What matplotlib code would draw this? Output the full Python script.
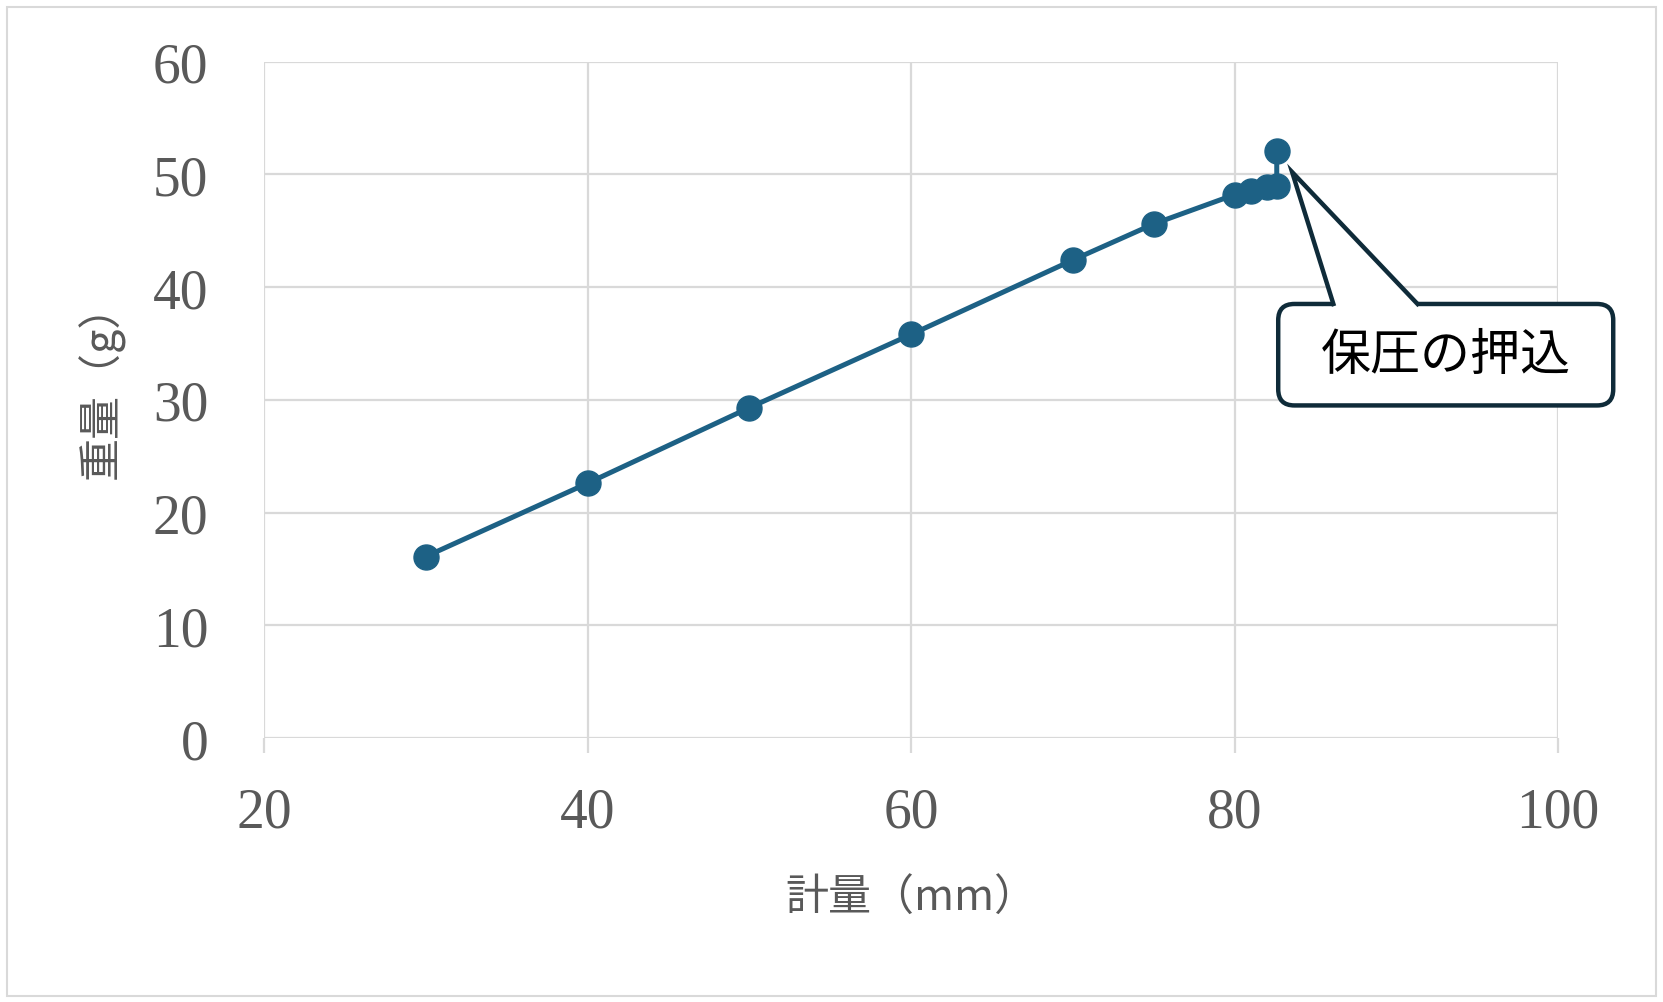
import matplotlib
matplotlib.use('Agg')
from matplotlib import pyplot as plt
from matplotlib.patches import FancyBboxPatch, Polygon, Rectangle

plt.rcParams['font.family'] = ['Liberation Serif', 'Noto Sans CJK JP', 'DejaVu Sans']

# 計量 (mm) と 重量 (g)
stroke_mm = [30, 40, 50, 60, 70, 75, 80, 81, 82, 82.6, 82.6]
weight_g = [16.1, 22.6, 29.3, 35.8, 42.4, 45.6, 48.2, 48.5, 48.9, 49.0, 52.1]

x_ticks = [20, 40, 60, 80, 100]
y_ticks = [0, 10, 20, 30, 40, 50, 60]

callout_text = '保圧の押込'
callout_tip = (83.55, 50.2)

line_color = '#1d6185'
grid_color = '#d9d9d9'
text_gray = '#595959'
box_edge = '#0f2b39'

fig = plt.figure(figsize=(16.63, 10.03), dpi=100)
ax = fig.add_axes([0.1588, 0.2632, 0.7782, 0.6744])

# outer chart border
fig.patches.append(Rectangle((0.004, 0.006), 0.992, 0.986, transform=fig.transFigure,
                             fill=False, edgecolor=grid_color, linewidth=1.5))

ax.plot(stroke_mm, weight_g, color=line_color, linewidth=3.6, marker='o',
        markersize=18, zorder=3, clip_on=False)

ax.set_xlim(20, 100)
ax.set_ylim(0, 60)
ax.set_xticks(x_ticks)
ax.set_yticks(y_ticks)
ax.grid(True, color=grid_color, linewidth=1.6)
ax.set_axisbelow(True)
for s in ax.spines.values():
    s.set_visible(False)
ax.tick_params(axis='x', length=11, width=1.6, color=grid_color, pad=24,
               labelsize=40, labelcolor=text_gray)
ax.tick_params(axis='y', length=0, pad=40, labelsize=40, labelcolor=text_gray)

ax.set_xlabel('計量（mm）', fontsize=31, color=text_gray, family=['Noto Sans CJK JP'])
ax.set_ylabel('重量（g）', fontsize=31, color=text_gray, family=['Noto Sans CJK JP'])
ax.xaxis.set_label_coords(0.5, -0.237)
ax.yaxis.set_label_coords(-0.126, 0.53)
ax.xaxis.label.set_va('center')
ax.yaxis.label.set_va('center')

# callout box
fig.canvas.draw()
p0 = ax.transData.transform((0, 0))
p1 = ax.transData.transform((1, 1))
aspect = (p1[0] - p0[0]) / (p1[1] - p0[1])
bx0, bx1, by0, by1 = 82.69, 103.4, 29.5, 38.5
box = FancyBboxPatch((bx0, by0), bx1 - bx0, by1 - by0,
                     boxstyle='round,pad=0,rounding_size=1.0',
                     mutation_aspect=aspect, facecolor='white', edgecolor=box_edge,
                     linewidth=3.2, zorder=5, clip_on=False)
ax.add_patch(box)
base_l, base_r = 86.1, 91.3
ax.add_patch(Polygon([(base_l, by1 - 0.4), (base_l, by1), callout_tip, (base_r, by1),
                      (base_r, by1 - 0.4)], closed=True, facecolor='white',
                     edgecolor='none', zorder=6, clip_on=False))
ax.plot([base_l, callout_tip[0], base_r], [by1, callout_tip[1], by1], color=box_edge,
        linewidth=3.2, zorder=7, clip_on=False, solid_joinstyle='miter')
ax.text((bx0 + bx1) / 2, (by0 + by1) / 2, callout_text, fontsize=36, color='black',
        ha='center', va='center', zorder=8, family=['Noto Sans CJK JP'])

fig.savefig('out.png', dpi=100)
